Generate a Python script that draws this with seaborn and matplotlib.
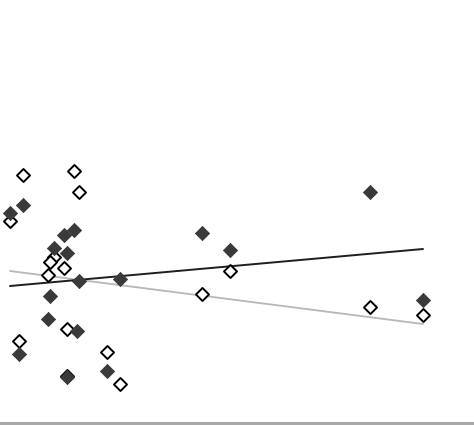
import matplotlib
matplotlib.use("Agg")
import matplotlib.pyplot as plt
import numpy as np
import pandas as pd
import seaborn as sns

# Pontos (x, y em unidades arbitrárias)
filled_x = [23, 10, 64, 74, 54, 67, 79, 120, 50, 48, 77, 19, 67, 107, 202, 230, 370, 423]
filled_y = [218, 210, 188, 193, 175, 170, 142, 144, 127, 104, 92, 69, 46, 52, 190, 173, 231, 123]

open_x = [23, 74, 79, 10, 54, 50, 64, 48, 67, 19, 107, 67, 120, 230, 202, 370, 423]
open_y = [248, 252, 231, 202, 166, 161, 155, 148, 94, 82, 71, 47, 39, 152, 129, 116, 108]

# Retas de tendência (extremos)
line_x = [10, 423]
line_dark_y = [137, 174]
line_light_y = [152, 99]

df_filled = pd.DataFrame({"x": filled_x, "y": filled_y})
df_open = pd.DataFrame({"x": open_x, "y": open_y})
df_lines = pd.DataFrame({"x": line_x, "dark": line_dark_y, "light": line_light_y})

sns.set_style("white")
fig = plt.figure(figsize=(4.74, 4.25), dpi=100)
ax = fig.add_axes([0, 2 / 425, 1, 423 / 425])

sns.lineplot(data=df_lines, x="x", y="light", color="#b4b8b6", linewidth=1.3, ax=ax)
sns.lineplot(data=df_lines, x="x", y="dark", color="#1e1e1e", linewidth=1.4, ax=ax)

sns.scatterplot(data=df_open, x="x", y="y", marker="D", s=44,
                facecolor="white", edgecolor="black", linewidth=1.4, ax=ax, zorder=3)
sns.scatterplot(data=df_filled, x="x", y="y", marker="D", s=52,
                color="#3a3a3a", edgecolor="#3a3a3a", linewidth=0.6, ax=ax, zorder=4)

ax.set_xlim(0, 474)
ax.set_ylim(0, 423)
ax.set_xticks([])
ax.set_yticks([])
ax.set_xlabel("")
ax.set_ylabel("")
for side in ["top", "left", "right"]:
    ax.spines[side].set_visible(False)
ax.spines["bottom"].set_color("#a9a9a9")
ax.spines["bottom"].set_linewidth(2.2)

fig.savefig("out.png", dpi=100)
